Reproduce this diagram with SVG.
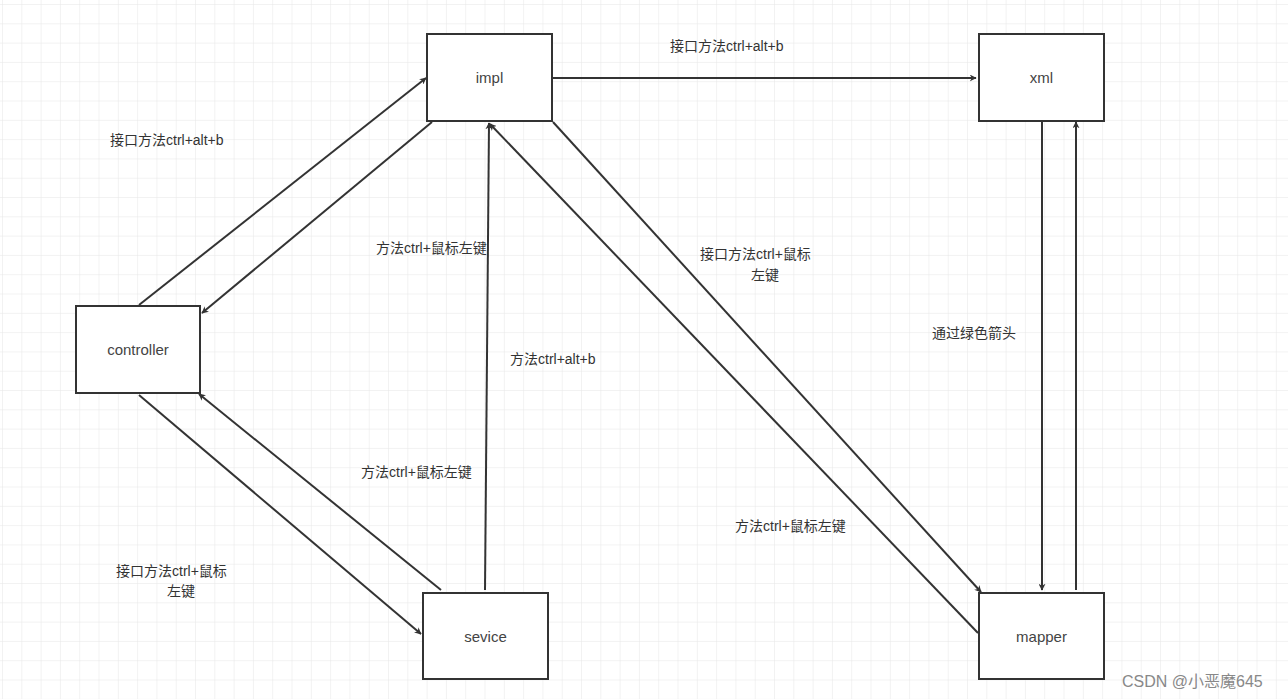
<svg xmlns="http://www.w3.org/2000/svg" width="1288" height="699" viewBox="0 0 1288 699">
<defs>
<pattern id="g" width="19.3" height="19.3" patternUnits="userSpaceOnUse" x="3" y="5"><path d="M19.3 0V19.3H0" fill="none" stroke="#e6e6e6" stroke-width="1"/></pattern>
<marker id="a" viewBox="0 0 10 10" refX="9" refY="5" markerWidth="7" markerHeight="7" orient="auto" markerUnits="userSpaceOnUse"><path d="M0 0L10 5L0 10L3 5z" fill="#333"/></marker>
<style>
.n rect{fill:#fff;stroke:#333;stroke-width:2}
.n text{font-family:"Liberation Sans","Noto Sans CJK SC",sans-serif;font-size:15px;fill:#444;text-anchor:middle}
.c line{stroke:#333;stroke-width:2;marker-end:url(#a)}
.l{font-family:"Liberation Sans","Noto Sans CJK SC",sans-serif;font-size:14px;fill:#333}
</style>
</defs>
<rect width="1288" height="699" fill="#fff"/>
<rect width="1288" height="699" fill="url(#g)"/>
<style>.c line{marker-end:url(#a)}</style>
<g class="c" id="connectors">
<line x1="139" y1="305" x2="426" y2="78"/>
<line x1="432" y1="122" x2="202" y2="313"/>
<line x1="552" y1="78" x2="976" y2="78"/>
<line x1="139" y1="395" x2="421" y2="634"/>
<line x1="441" y1="590" x2="199" y2="394"/>
<line x1="485" y1="590" x2="489" y2="123"/>
<line x1="553" y1="122" x2="981" y2="592"/>
<line x1="978" y1="633" x2="490" y2="124"/>
<line x1="1042" y1="122" x2="1042" y2="590"/>
<line x1="1076" y1="590" x2="1076" y2="122"/>
</g>
<g id="impl" class="n"><rect x="427" y="34" width="125" height="87"/><text x="489.5" y="83">impl</text></g>
<g id="xml" class="n"><rect x="979" y="34" width="125" height="87"/><text x="1041.5" y="83">xml</text></g>
<g id="controller" class="n"><rect x="76" y="306" width="124" height="87"/><text x="138" y="355">controller</text></g>
<g id="sevice" class="n"><rect x="423" y="593" width="125" height="86"/><text x="485.5" y="642">sevice</text></g>
<g id="mapper" class="n"><rect x="979" y="593" width="125" height="86"/><text x="1041.5" y="642">mapper</text></g>
<g id="labels" class="l">
<text x="670" y="51">接口方法ctrl+alt+b</text>
<text x="110" y="145">接口方法ctrl+alt+b</text>
<text x="376" y="253">方法ctrl+鼠标左键</text>
<text x="700" y="259">接口方法ctrl+鼠标</text>
<text x="751" y="280">左键</text>
<text x="510" y="364">方法ctrl+alt+b</text>
<text x="932" y="338">通过绿色箭头</text>
<text x="361" y="477">方法ctrl+鼠标左键</text>
<text x="735" y="531">方法ctrl+鼠标左键</text>
<text x="116" y="576">接口方法ctrl+鼠标</text>
<text x="167" y="596">左键</text>
<text x="1122" y="687" style="font-size:16px;fill:#888">CSDN @小恶魔645</text>
</g>
</svg>
